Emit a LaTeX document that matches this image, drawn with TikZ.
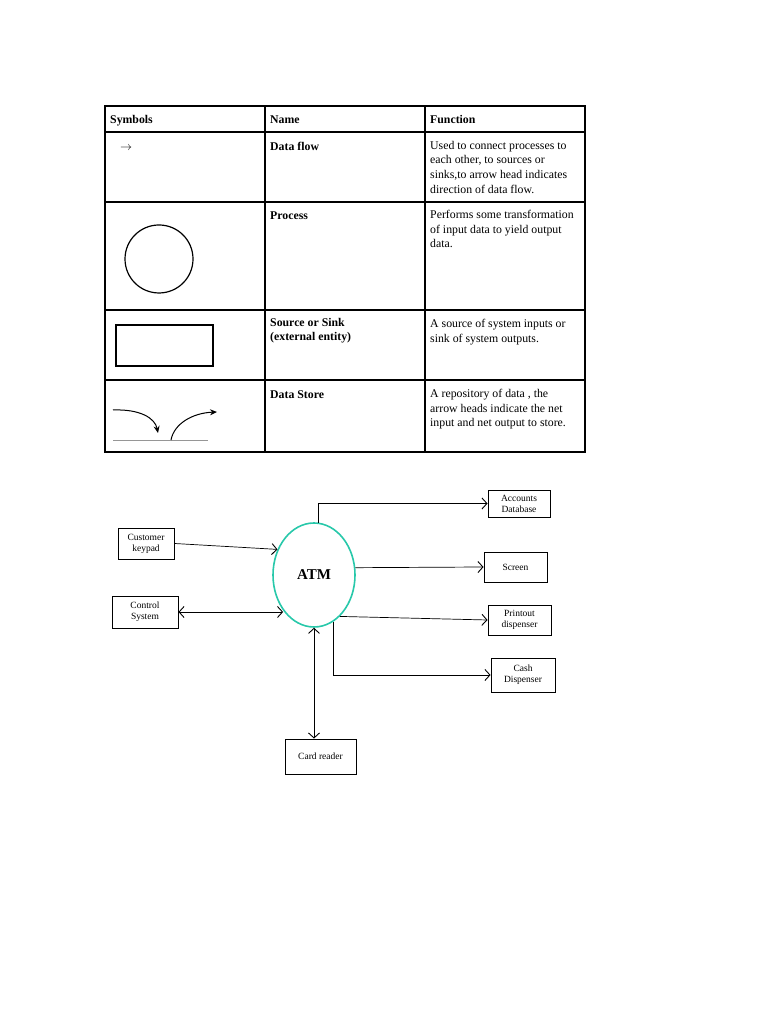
\documentclass[tikz,border=0pt]{standalone}
\usepackage{fontspec}
\setmainfont{Liberation Serif}
\usetikzlibrary{arrows.meta, positioning, shapes.geometric}
\definecolor{atmteal}{RGB}{40, 200, 170}
\definecolor{storegray}{RGB}{150, 150, 150}

\begin{document}
\begin{tikzpicture}[
            x=1pt, y=1pt,
            cell/.style={anchor=north west, inner sep=0pt, align=left,
                         font=\fontsize{11.8}{14.6}\selectfont, execute at begin node={\strut}},
            head/.style={cell, font=\fontsize{11.8}{14.6}\selectfont\bfseries},
            ent/.style={draw, line width=0.9pt, align=center, inner sep=1pt,
                        font=\fontsize{9.5}{11}\selectfont},
            flow/.style={-{Straight Barb[length=5pt,width=11pt,line width=0.9pt]}, line width=0.7pt},
            both/.style={{Straight Barb[length=5pt,width=11pt,line width=0.9pt]}-{Straight Barb[length=5pt,width=11pt,line width=0.9pt]}, line width=0.7pt}
          ]
          \useasboundingbox (0,0) rectangle (768,1024);
          % symbol table
          \draw[line width=1.1pt] (105,572) rectangle (585,918);
          \draw[line width=1.1pt] (265,572) -- (265,918) (425,572) -- (425,918);
          \foreach \yy in {892,822,714,644}
            \draw[line width=1.1pt] (105,\yy) -- (585,\yy);
          \node[head] (hsym)  at (110,911) {Symbols};
          \node[head] (hname) at (270,911) {Name};
          \node[head] (hfun)  at (430,911) {Function};
          % data flow
          \node[cell] (sflow) at (120,884) {$\rightarrow$};
          \node[head] (nflow) at (270,884) {Data flow};
          \node[cell] (fflow) at (430,883) {Used to connect processes to\\each other, to sources or\\sinks,to arrow head indicates\\direction of data flow.};
          % process
          \draw[line width=1.2pt] (159,765) circle (34);
          \node[head] (nproc) at (270,815) {Process};
          \node[cell] (fproc) at (430,814) {Performs some transformation\\of input data to yield output\\data.};
          % source or sink
          \draw[line width=1.2pt] (116,658) rectangle (213,699);
          \node[head] (nsrc) at (270,706) {Source or Sink\\(external entity)};
          \node[cell] (fsrc) at (430,705) {A source of system inputs or\\sink of system outputs.};
          % data store
          \draw[storegray, line width=0.8pt] (113,584) -- (208,584);
          \draw[-{Stealth[length=7pt,width=6pt]}, line width=1pt]
            (113,614) .. controls (140,615) and (155,606) .. (158,591);
          \draw[-{Stealth[length=7pt,width=6pt]}, line width=1pt]
            (171,584) .. controls (174,600) and (192,611) .. (217,612);
          \node[head] (nstore) at (270,636) {Data Store};
          \node[cell] (fstore) at (430,635) {A repository of data , the\\arrow heads indicate the net\\input and net output to store.};

          % ATM data flow diagram
          \node[ellipse, draw=atmteal, line width=1.6pt, minimum width=82, minimum height=104,
                inner sep=0pt, font=\fontsize{15}{17}\selectfont\bfseries] (atm) at (314,449) {ATM};
          \node[ent, minimum width=56, minimum height=31] (keypad) at (146,480.5) {Customer\\keypad};
          \node[ent, minimum width=66, minimum height=32] (ctrl) at (145,412) {Control\\System};
          \node[ent, minimum width=62, minimum height=27] (acc) at (519,520.5) {Accounts\\Database};
          \node[ent, minimum width=63, minimum height=30] (screen) at (515.5,457) {Screen};
          \node[ent, minimum width=63, minimum height=30] (print) at (519.5,404) {Printout\\dispenser};
          \node[ent, minimum width=64, minimum height=34] (cash) at (523,349) {Cash\\Dispenser};
          \node[ent, minimum width=71, minimum height=35] (card) at (320.5,267.5) {Card reader};

          \draw[flow] (keypad.east) -- (atm.145);
          \draw[both] (ctrl.east) -- (ctrl.east -| atm.229);
          \draw[flow] (atm.85) |- (acc.west);
          \draw[flow] (atm.10) -- (screen.west);
          \draw[flow] (atm.-58) -- (print.west);
          \draw[flow] (atm.-68) |- (cash.west);
          \draw[both] (atm.south) -- (atm.south |- card.north);
        \end{tikzpicture}
\end{document}
